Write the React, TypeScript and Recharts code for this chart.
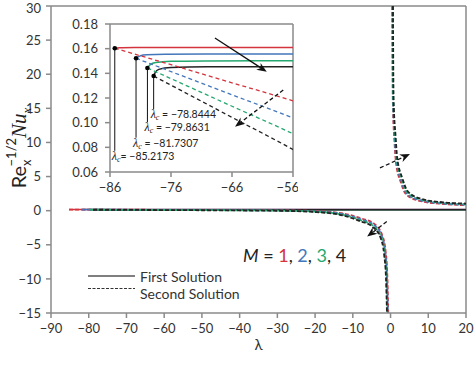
import React from "react";
import {
  LineChart,
  Line,
  XAxis,
  YAxis,
  ReferenceLine,
  ReferenceDot,
  Label,
} from "recharts";

// M = 1..4, critical points
const mValues = [1, 2, 3, 4];
const lambdaC = [-85.2173, -81.7307, -79.8631, -78.8444];
const nuAtLambdaC = [0.1603, 0.1522, 0.1443, 0.1378];
const lambdaCLabels = ["−85.2173", "−81.7307", "−79.8631", "−78.8444"];
const lambdaCLeaderEnd = [0.0772, 0.0878, 0.1005, 0.111];

// first solution (solid)
const firstLam = [
  [-85.2173, -84.5, -82, -76, -66, -56, 20],
  [-81.7307, -81, -80, -77, -66, -56, 20],
  [-79.8631, -79.4, -78.5, -76, -70, -56, 20],
  [-78.8444, -78.6, -78, -76, -70, -56, 20],
];
const firstNu = [
  [0.1603, 0.1607, 0.1609, 0.161, 0.161, 0.161, 0.161],
  [0.1522, 0.1543, 0.155, 0.1555, 0.1557, 0.1557, 0.1557],
  [0.1443, 0.147, 0.1487, 0.1497, 0.15, 0.1502, 0.1502],
  [0.1378, 0.1405, 0.1432, 0.1448, 0.1453, 0.1454, 0.1454],
];

// second solution (dashed), branch lambda < 0
const secondLam = [
  [-85.2173, -76, -66, -56, -40, -30, -20, -12.5, -8, -4.4, -2.2, -1.3, -0.85, -0.6],
  [-81.7307, -76, -66, -56, -40, -30, -20, -12.5, -8, -4.5, -2.3, -1.4, -0.95, -0.7],
  [-79.8631, -76, -66, -56, -40, -30, -20, -12.5, -8, -4.7, -2.45, -1.55, -1.1, -0.85],
  [-78.8444, -76, -66, -56, -40, -30, -20, -12.5, -8, -4.8, -2.6, -1.7, -1.2, -0.95],
];
const secondNu = [
  [0.1603, 0.147, 0.1323, 0.1177, 0.09, 0.05, -0.05, -0.42, -1.1, -1.9, -3.6, -6.0, -9.5, -15],
  [0.1522, 0.1414, 0.1226, 0.1038, 0.07, 0.03, -0.1, -0.52, -1.25, -2.05, -3.75, -6.15, -9.65, -15],
  [0.1443, 0.1357, 0.1133, 0.091, 0.05, 0.01, -0.15, -0.62, -1.4, -2.2, -3.9, -6.3, -9.8, -15],
  [0.1378, 0.1304, 0.1043, 0.0782, 0.03, -0.01, -0.2, -0.72, -1.55, -2.35, -4.05, -6.45, -9.95, -15],
];

// second solution (dashed), branch lambda > 0
const upperLam = [
  [0.45, 0.6, 1.05, 1.45, 2.7, 4.1, 7.6, 14, 20],
  [0.5, 0.67, 1.15, 1.55, 2.85, 4.25, 7.75, 14, 20],
  [0.57, 0.73, 1.25, 1.65, 2.95, 4.4, 7.9, 14, 20],
  [0.64, 0.8, 1.35, 1.75, 3.1, 4.55, 8, 14, 20],
];
const upperNu = [
  [30, 16, 10, 7, 4.2, 2.4, 1.45, 0.98, 0.8],
  [30, 16.1, 10.3, 7.3, 4.4, 2.55, 1.55, 1.05, 0.87],
  [30, 16.2, 10.5, 7.55, 4.6, 2.7, 1.65, 1.14, 0.96],
  [30, 16.4, 10.8, 7.8, 4.8, 2.85, 1.75, 1.22, 1.04],
];

const xTicks = [-90, -80, -70, -60, -50, -40, -30, -20, -10, 0, 10, 20];
const yTicks = [-15, -10, -5, 0, 5, 10, 15, 20, 25, 30];
const insetXTicks = [-86, -76, -66, -56];
const insetYTicks = [0.06, 0.08, 0.1, 0.12, 0.14, 0.16, 0.18];

// arrows (data coordinates)
const insetArrowFirst = [{ x: -68.8, y: 0.1686 }, { x: -60.3, y: 0.1413 }];
const insetArrowSecond = [{ x: -57.6, y: 0.1265 }, { x: -65.5, y: 0.0967 }];
const mainArrowUpper = [{ x: -2.8, y: 6.26 }, { x: 5.15, y: 8.3 }];
const mainArrowLower = [{ x: -1.0, y: -1.6 }, { x: -6.2, y: -3.8 }];

const COLORS = ["#d4343d", "#4377bb", "#25a870", "#222222"];
const AXIS = "#8a8a8a";
const FONT = "Lato, 'Open Sans', sans-serif";

const pts = (lam: number[], nu: number[]) => lam.map((l, i) => ({ lam: l, nu: nu[i] }));
const fmt = (v: number) => (v < 0 ? `−${Math.abs(v)}` : `${v}`);

const arrowShape = (dashed: boolean) => (p: any) => {
  const { x1, y1, x2, y2 } = p;
  const a = Math.atan2(y2 - y1, x2 - x1);
  const L = 10;
  const w = 4;
  const bx = x2 - L * Math.cos(a);
  const by = y2 - L * Math.sin(a);
  const nx = x2 - 0.7 * L * Math.cos(a);
  const ny = y2 - 0.7 * L * Math.sin(a);
  const px = -Math.sin(a) * w;
  const py = Math.cos(a) * w;
  return (
    <g>
      <line x1={x1} y1={y1} x2={nx} y2={ny} stroke="#111" strokeWidth={1.3} strokeDasharray={dashed ? "4 2.5" : undefined} />
      <polygon points={`${x2},${y2} ${bx + px},${by + py} ${nx},${ny} ${bx - px},${by - py}`} fill="#111" />
    </g>
  );
};

const leaderShape = (i: number) => (p: any) => {
  const { x1, y1, x2, y2 } = p;
  return (
    <g>
      <line x1={x1} y1={y1} x2={x2} y2={y2} stroke="#111" strokeWidth={1} />
      <text x={x2 - 3} y={y2 + 9} fontSize={10.5} fill="#222" fontFamily={FONT}>
        <tspan fontStyle="italic" fontFamily="'Liberation Serif', serif" fontSize={12}>λ</tspan>
        <tspan fontStyle="italic" fontFamily="'Liberation Serif', serif" fontSize={8} dy={2}>c</tspan>
        <tspan dy={-2}>{i === 0 ? "= " : " = "}{lambdaCLabels[i]}</tspan>
      </text>
    </g>
  );
};

export default function App() {
  return (
    <div style={{ position: "absolute", left: 0, top: 0, width: 474, height: 365, background: "#fff" }}>
      <LineChart width={474} height={365} margin={{ top: 6, right: 8, bottom: 12, left: 15 }}>
        <XAxis
          type="number"
          dataKey="lam"
          domain={[-90, 20]}
          ticks={xTicks}
          tickFormatter={fmt}
          height={40}
          stroke={AXIS}
          strokeWidth={1.5}
          tickSize={5}
          tickMargin={6}
          tick={{ fill: "#333", fontSize: 13, fontFamily: FONT }}
        >
          <Label value="λ" position="insideBottom" offset={3} style={{ fill: "#333", fontSize: 15, fontFamily: FONT }} />
        </XAxis>
        <YAxis
          type="number"
          domain={[-15, 30]}
          ticks={yTicks}
          tickFormatter={fmt}
          width={36}
          stroke={AXIS}
          strokeWidth={1.5}
          tickSize={5}
          tickMargin={5}
          tick={{ fill: "#333", fontSize: 13, fontFamily: FONT }}
        />
        <ReferenceLine y={30} stroke={AXIS} strokeWidth={1.5} ifOverflow="visible" />
        <ReferenceLine x={20} stroke={AXIS} strokeWidth={1.5} ifOverflow="visible" />
        {mValues.map((m, i) => (
          <Line
            key={`f${m}`}
            data={pts(firstLam[i], firstNu[i])}
            dataKey="nu"
            type="monotone"
            stroke={COLORS[i]}
            strokeWidth={1.5}
            dot={false}
            activeDot={false}
            isAnimationActive={false}
          />
        ))}
        {mValues.map((m, i) => (
          <Line
            key={`s${m}`}
            data={pts(secondLam[i], secondNu[i])}
            dataKey="nu"
            type="monotone"
            stroke={COLORS[i]}
            strokeWidth={1.8}
            strokeDasharray="4 2"
            dot={false}
            activeDot={false}
            isAnimationActive={false}
          />
        ))}
        {mValues.map((m, i) => (
          <Line
            key={`u${m}`}
            data={pts(upperLam[i], upperNu[i])}
            dataKey="nu"
            type="monotone"
            stroke={COLORS[i]}
            strokeWidth={1.8}
            strokeDasharray="4 2"
            dot={false}
            activeDot={false}
            isAnimationActive={false}
          />
        ))}
        <ReferenceLine segment={mainArrowUpper} ifOverflow="visible" shape={arrowShape(true)} />
        <ReferenceLine segment={mainArrowLower} ifOverflow="visible" shape={arrowShape(true)} />
      </LineChart>

      <div style={{ position: "absolute", left: 62, top: 14 }}>
        <LineChart width={236} height={184} margin={{ top: 10, right: 5, bottom: 0, left: 0 }}>
          <XAxis
            type="number"
            dataKey="lam"
            domain={[-86, -56]}
            ticks={insetXTicks}
            tickFormatter={fmt}
            allowDataOverflow
            height={26}
            stroke={AXIS}
            strokeWidth={1.5}
            tickSize={5}
            tickMargin={6}
            tick={{ fill: "#333", fontSize: 13, fontFamily: FONT }}
          />
          <YAxis
            type="number"
            domain={[0.06, 0.18]}
            ticks={insetYTicks}
            tickFormatter={(v: number) => v.toFixed(2)}
            allowDataOverflow
            width={48}
            stroke={AXIS}
            strokeWidth={1.5}
            tickSize={5}
            tickMargin={7}
            tick={{ fill: "#333", fontSize: 13, fontFamily: FONT }}
          />
          <ReferenceLine y={0.18} stroke={AXIS} strokeWidth={1.5} ifOverflow="visible" />
          <ReferenceLine x={-56} stroke={AXIS} strokeWidth={1.5} ifOverflow="visible" />
          {mValues.map((m, i) => (
            <Line
              key={`if${m}`}
              data={pts(firstLam[i], firstNu[i])}
              dataKey="nu"
              type="monotone"
              stroke={COLORS[i]}
              strokeWidth={1.5}
              dot={false}
              activeDot={false}
              isAnimationActive={false}
            />
          ))}
          {mValues.map((m, i) => (
            <Line
              key={`is${m}`}
              data={pts(secondLam[i], secondNu[i])}
              dataKey="nu"
              type="monotone"
              stroke={COLORS[i]}
              strokeWidth={1.3}
              strokeDasharray="4 3"
              dot={false}
              activeDot={false}
              isAnimationActive={false}
            />
          ))}
          {mValues.map((m, i) => (
            <ReferenceLine
              key={`lead${m}`}
              segment={[
                { x: lambdaC[i], y: nuAtLambdaC[i] },
                { x: lambdaC[i], y: lambdaCLeaderEnd[i] },
              ]}
              ifOverflow="visible"
              shape={leaderShape(i)}
            />
          ))}
          {mValues.map((m, i) => (
            <ReferenceDot key={`dot${m}`} x={lambdaC[i]} y={nuAtLambdaC[i]} r={2.3} fill="#000" stroke="none" ifOverflow="visible" />
          ))}
          <ReferenceLine segment={insetArrowFirst} ifOverflow="visible" shape={arrowShape(false)} />
          <ReferenceLine segment={insetArrowSecond} ifOverflow="visible" shape={arrowShape(true)} />
        </LineChart>
      </div>

      <svg width={474} height={365} style={{ position: "absolute", left: 0, top: 0, pointerEvents: "none" }}>
        <text transform="rotate(-90 26 148)" x={26} y={148} textAnchor="middle" fill="#222" fontFamily={FONT} fontSize={20}>
          Re
          <tspan fontSize={13} dy={5}>x</tspan>
          <tspan fontSize={13} dx={-7} dy={-15}>−1/2</tspan>
          <tspan fontFamily="'Liberation Serif', serif" fontStyle="italic" fontSize={21} dy={10}>Nu</tspan>
          <tspan fontFamily="'Liberation Serif', serif" fontStyle="italic" fontSize={13} dy={5}>x</tspan>
        </text>
        <line x1={88} y1={276} x2={135} y2={276} stroke="#555" strokeWidth={1.3} />
        <text x={140} y={282} fontSize={14} fill="#333" fontFamily={FONT}>First Solution</text>
        <line x1={88} y1={288.5} x2={135} y2={288.5} stroke="#333" strokeWidth={1.2} strokeDasharray="3 1.5" />
        <text x={140} y={299} fontSize={14} fill="#333" fontFamily={FONT}>Second Solution</text>
        <text x={243} y={262} fontSize={18} fill="#222" fontFamily={FONT}>
          <tspan fontStyle="italic">M</tspan>
          {" = "}
          <tspan fill={COLORS[0]}>1</tspan>
          {", "}
          <tspan fill={COLORS[1]}>2</tspan>
          {", "}
          <tspan fill={COLORS[2]}>3</tspan>
          {", 4"}
        </text>
      </svg>
    </div>
  );
}
